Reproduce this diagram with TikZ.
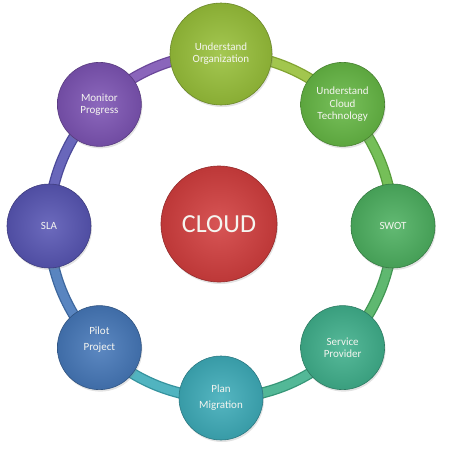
\documentclass[tikz,border=0pt]{standalone}
\usepackage{fontspec}
\setmainfont{Carlito}
\usetikzlibrary{shadows,backgrounds}
\definecolor{cUO}{RGB}{152,192,58}
\definecolor{cUCT}{RGB}{102,184,69}
\definecolor{cSWOT}{RGB}{77,176,96}
\definecolor{cSP}{RGB}{64,176,140}
\definecolor{cPM}{RGB}{62,172,185}
\definecolor{cPP}{RGB}{70,120,185}
\definecolor{cSLA}{RGB}{88,86,180}
\definecolor{cMP}{RGB}{125,84,180}
\definecolor{cCL}{RGB}{210,62,62}
\definecolor{txtc}{RGB}{245,245,240}
\begin{document}
\begin{tikzpicture}[x=1pt,y=1pt,
  ball/.style={circle, inner sep=0pt, minimum size=#1, align=center, text=txtc,
    font=\fontsize{11}{12}\selectfont},
  tint/.style={shade, inner color=#1!88!white, outer color=#1!90!black,
    draw=#1!70!black, line width=0.6pt,
    drop shadow={opacity=0.22, shadow xshift=1pt, shadow yshift=-2pt}},
  txt/.style={align=center, text=txtc, font=\fontsize{11}{12}\selectfont},
  tube/.style={draw=#1!85!black, double=#1!90!white, double distance=8.5pt, line width=1.3pt}
]
\useasboundingbox (-221,-222) rectangle (229,226);

\node[ball=102pt, tint=cUO] (uo) at (90:172) {Understand\\Organization};
\node[ball=84pt, tint=cUCT, font=\fontsize{11}{12.5}\selectfont] (uct) at (45:172) {Understand\\Cloud\\Technology};
\node[ball=84pt, tint=cSWOT] (swot) at (0:172) {SWOT};
\node[ball=84pt, tint=cSP] (sp) at (-45:172) {Service\\Provider};
\node[ball=84pt, tint=cPM, font=\fontsize{11}{16}\selectfont] (pm) at (-90:172) {Plan\\Migration};
\node[ball=84pt, tint=cPP] (pp) at (-135:172) {};
\node[txt, font=\fontsize{11}{16.5}\selectfont] (pptext) at ([yshift=8pt]pp.center) {Pilot\\Project};
\node[ball=84pt, tint=cSLA] (sla) at (180:172) {SLA};
\node[ball=84pt, tint=cMP] (mp) at (135:172) {Monitor\\Progress};
\node[ball=116pt, tint=cCL, font=\fontsize{26}{28}\selectfont] (cloud) at (-2,2) {CLOUD};

\begin{scope}[on background layer]
\foreach \na/\a/\c in {uo/90/cUO, uct/45/cUCT, swot/0/cSWOT, sp/-45/cSP,
    pm/-90/cPM, pp/-135/cPP, sla/-180/cSLA, mp/-225/cMP}{
  \draw[tube=\c] (\na.center) arc[start angle=\a, end angle=\a-45.5, radius=172pt];
}
\end{scope}
\end{tikzpicture}
\end{document}
